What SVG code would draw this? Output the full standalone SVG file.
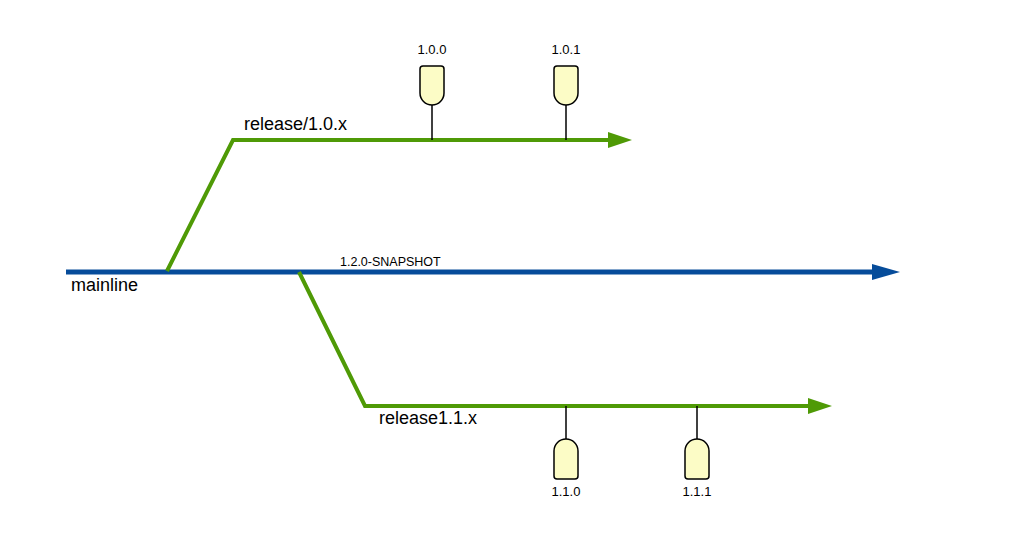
<svg xmlns="http://www.w3.org/2000/svg" width="1018" height="543" viewBox="0 0 1018 543">
<style>
.g{fill:none;stroke:#4f9a06;stroke-width:4}
.b{fill:none;stroke:#064c9a;stroke-width:5}
.s{stroke:#000;stroke-width:1.5}
.tag{fill:#fcfcc6;stroke:#000;stroke-width:1.5}
text{font-family:"Liberation Sans",Arial,sans-serif;fill:#000}
.sm{font-size:13px;text-anchor:middle}
.lb{font-size:18px}
</style>
<rect width="1018" height="543" fill="#fff"/>
<g id="connectors">
<line class="b" x1="66" y1="272" x2="876" y2="272"/>
<polygon points="872,264 900,272 872,280" fill="#064c9a"/>
<polyline class="g" points="167,271 233,140 610,140"/>
<polygon points="608,132 632,140 608,148" fill="#4f9a06"/>
<polyline class="g" points="299,272 365,406 810,406"/>
<polygon points="808,398 832,406 808,414" fill="#4f9a06"/>
<line class="s" x1="432" y1="105" x2="432" y2="140"/>
<line class="s" x1="566" y1="105" x2="566" y2="140"/>
<line class="s" x1="566" y1="406" x2="566" y2="439"/>
<line class="s" x1="697" y1="406" x2="697" y2="439"/>
</g>
<g id="mainline"><text class="lb" x="71" y="291">mainline</text><text x="340" y="266" font-size="12.5">1.2.0-SNAPSHOT</text></g>
<g id="release10"><text class="lb" x="244" y="130">release/1.0.x</text></g>
<g id="release11"><text class="lb" x="379" y="424">release1.1.x</text></g>
<g id="t100"><path class="tag" d="M423,66 h18 a3,3 0 0 1 3,3 v24 a12,12 0 0 1 -24,0 v-24 a3,3 0 0 1 3,-3z"/><text class="sm" x="432" y="54">1.0.0</text></g>
<g id="t101"><path class="tag" d="M557,66 h18 a3,3 0 0 1 3,3 v24 a12,12 0 0 1 -24,0 v-24 a3,3 0 0 1 3,-3z"/><text class="sm" x="566" y="54">1.0.1</text></g>
<g id="t110"><path class="tag" d="M554,451 a12,12 0 0 1 24,0 v25 a3,3 0 0 1 -3,3 h-18 a3,3 0 0 1 -3,-3z"/><text class="sm" x="566" y="496">1.1.0</text></g>
<g id="t111"><path class="tag" d="M685,451 a12,12 0 0 1 24,0 v25 a3,3 0 0 1 -3,3 h-18 a3,3 0 0 1 -3,-3z"/><text class="sm" x="697" y="496">1.1.1</text></g>
</svg>
